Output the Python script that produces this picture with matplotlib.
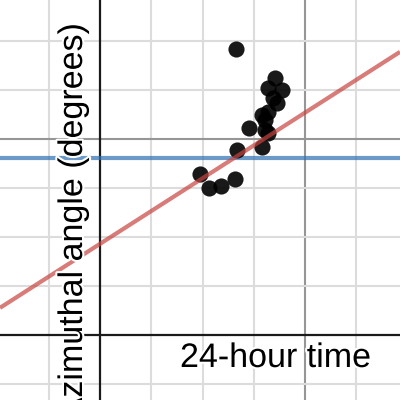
import numpy as np
import matplotlib
matplotlib.use("Agg")
import matplotlib.pyplot as plt
import matplotlib.patheffects as pe

# data in grid units (one minor grid step = 1)
time_pts = [2.65, 3.41, 3.27, 3.55, 3.37, 3.45, 3.27, 3.16, 3.22, 2.90,
            3.22, 3.27, 3.16, 2.67, 1.95, 2.12, 2.36, 2.63]
angle_pts = [5.84, 5.24, 5.04, 5.00, 4.84, 4.73, 4.55, 4.49, 4.39, 4.22,
             4.18, 4.12, 3.84, 3.78, 3.29, 3.00, 3.04, 3.18]
fit_slope = 0.67
fit_intercept = 1.86
mean_angle = 3.61

x_label = "24-hour time"
y_label = "Azimuthal angle (degrees)"

XLIM = (-1.949, 5.848)
YLIM = (-1.327, 6.837)

fig = plt.figure(figsize=(4, 4), dpi=100)
ax = fig.add_axes([0, 0, 1, 1])
ax.set_xlim(*XLIM)
ax.set_ylim(*YLIM)
ax.axis("off")

# grid
for gx in range(-1, 6):
    if gx == 0:
        continue
    major = gx % 4 == 0
    ax.axvline(gx, color="#969696" if major else "#dcdcdc", lw=1.5, zorder=1)
for gy in range(-1, 7):
    if gy == 0:
        continue
    major = gy % 4 == 0
    ax.axhline(gy, color="#969696" if major else "#dcdcdc", lw=1.5, zorder=1)
ax.axvline(0, color="#1a1a1a", lw=1.6, zorder=2)
ax.axhline(0, color="#1a1a1a", lw=1.6, zorder=2)

# labels (desmos style, white outline); y label runs off the bottom like the original
halo = [pe.withStroke(linewidth=3, foreground="white")]
fig.text(180 / 400, 1 - 367 / 400, x_label, fontsize=24.5, family="Liberation Sans",
         ha="left", va="baseline", zorder=3, path_effects=halo)
fig.text(82 / 400, 1 - 221.5 / 400, y_label, fontsize=24.5, family="Liberation Sans",
         rotation=90, rotation_mode="anchor", ha="center", va="baseline",
         zorder=3, path_effects=halo)

# lines and points
ax.axhline(mean_angle, color="#2d70b3", alpha=0.7, lw=3, zorder=4)
ax.scatter(time_pts, angle_pts, s=135, color="black", alpha=0.9, lw=0, zorder=5)
xs = np.array(XLIM)
ax.plot(xs, fit_slope * xs + fit_intercept, color="#c74440", alpha=0.7, lw=3,
        zorder=6, solid_capstyle="butt")

fig.savefig("out.png", dpi=100)
